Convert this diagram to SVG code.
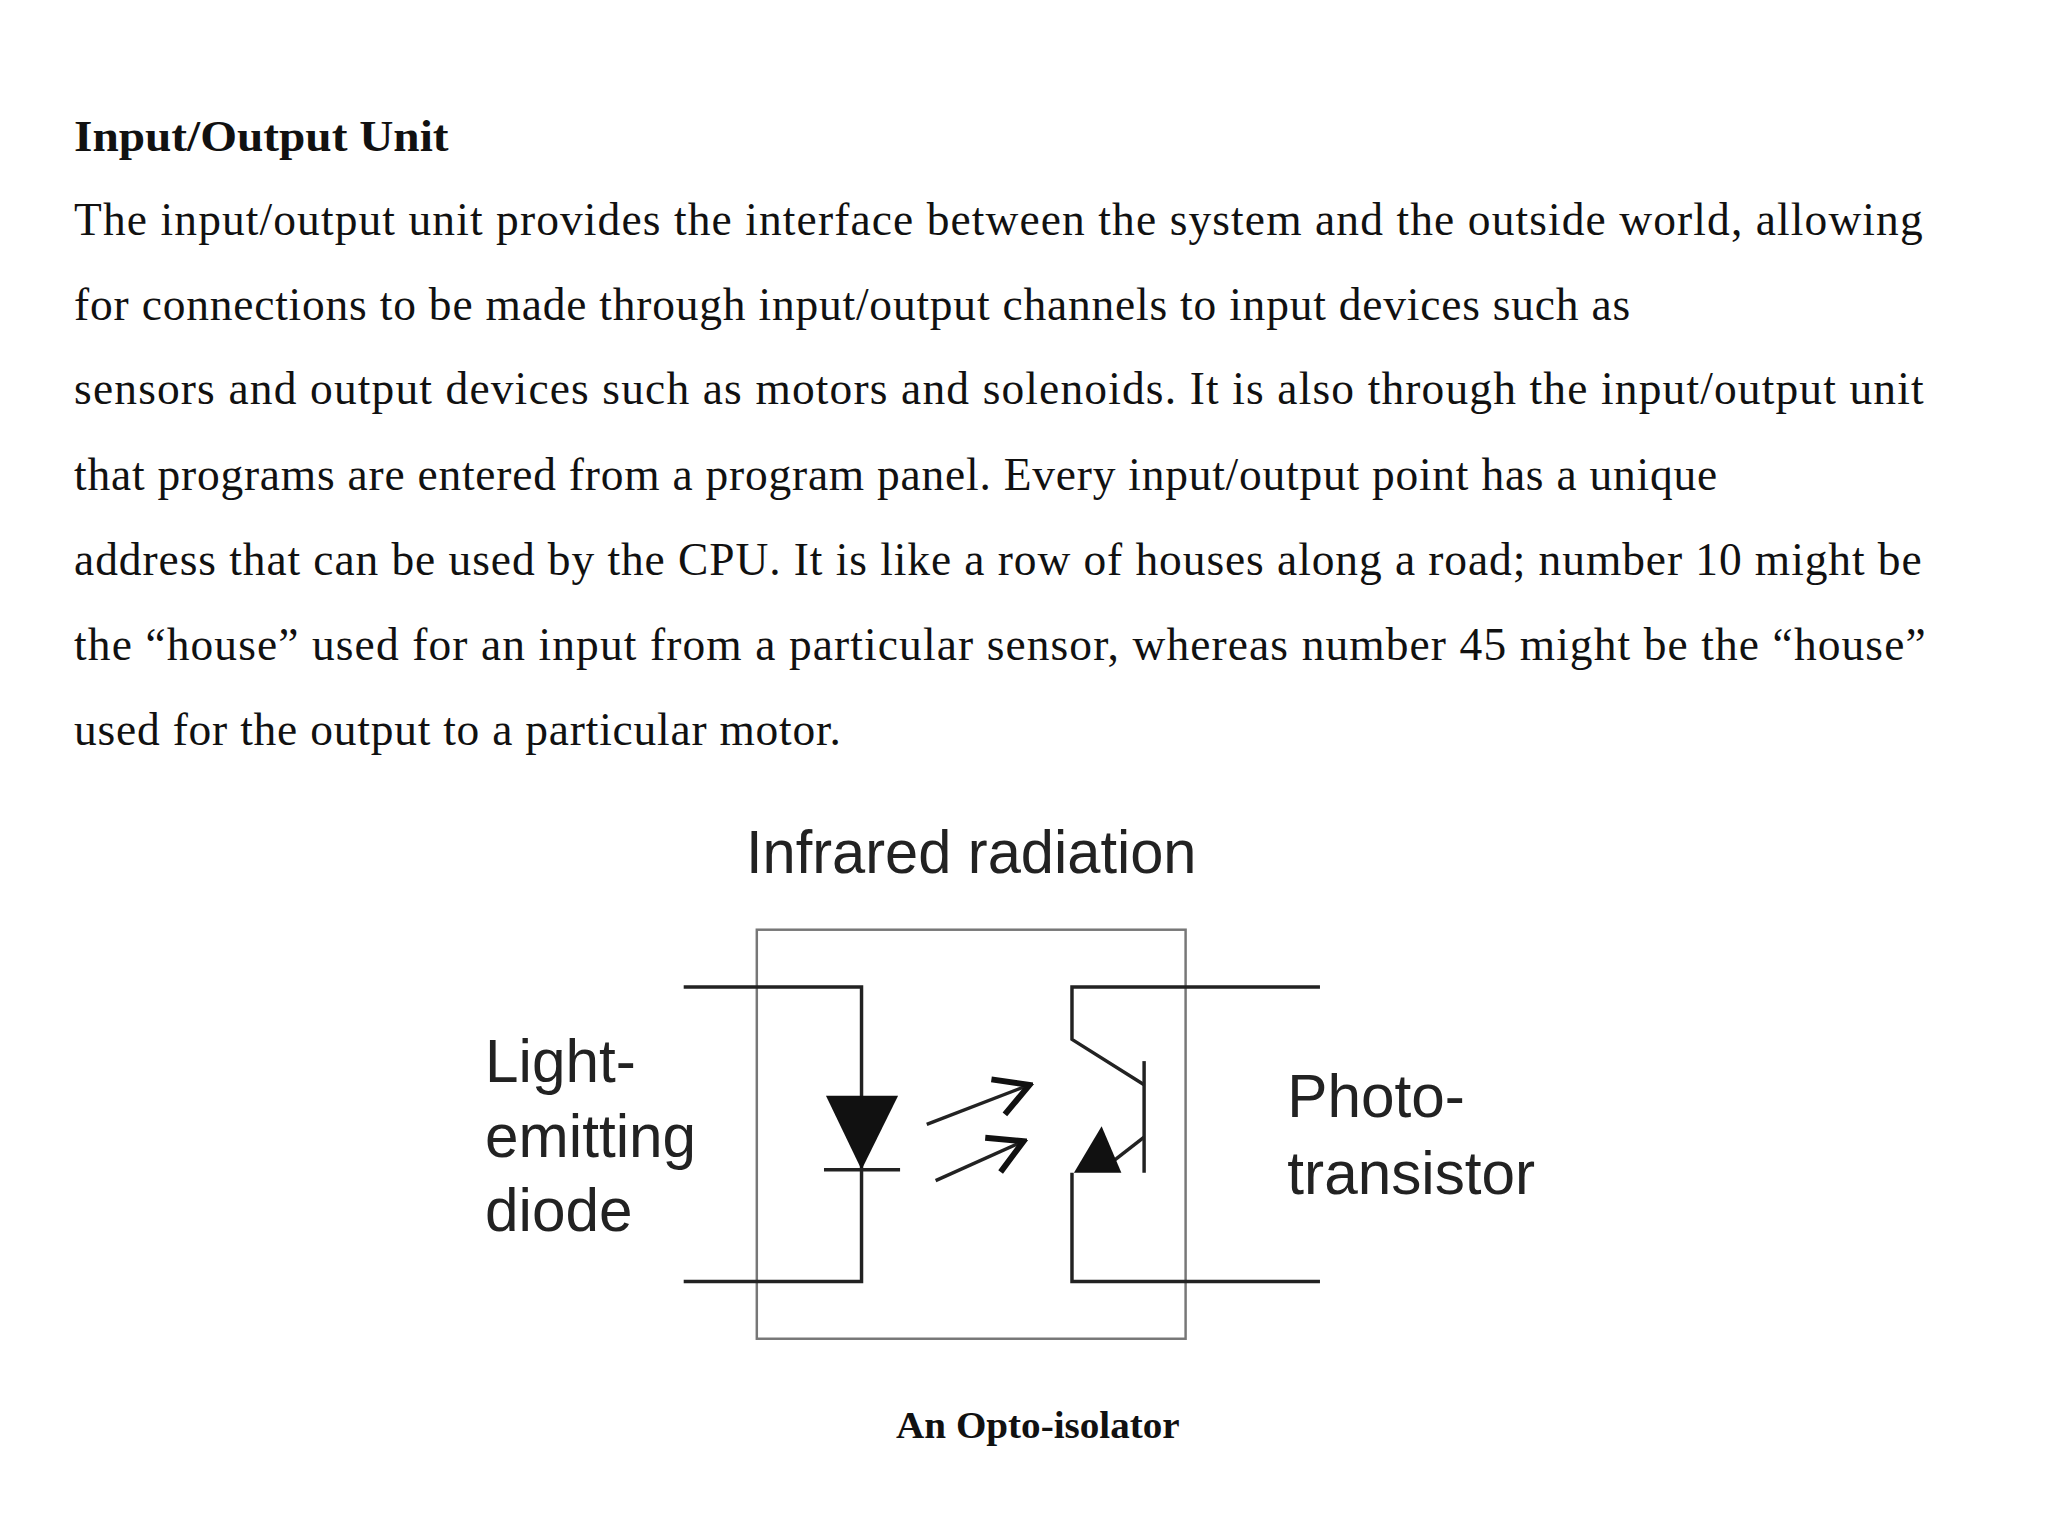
<svg xmlns="http://www.w3.org/2000/svg" width="2048" height="1536" viewBox="0 0 2048 1536">
<style>
.b{font-family:"Liberation Serif",serif;font-size:46px;fill:#111}
.h{font-family:"Liberation Serif",serif;font-size:45px;font-weight:bold;fill:#111}
.a{font-family:"Liberation Sans",Arial,sans-serif;font-size:61px;fill:#222}
.w{stroke:#222;stroke-width:3.5;fill:none}
</style>
<defs>
<marker id="ov" viewBox="0 0 44 44" markerWidth="44" markerHeight="44" refX="40" refY="22" orient="auto" markerUnits="userSpaceOnUse"><path d="M6,3 L40,22 L6,41" fill="none" stroke="#111" stroke-width="6"/></marker></defs>
<rect width="2048" height="1536" fill="#fff"/>
<g transform="scale(0.988)">
<g id="text">
<text class="h" x="75" y="153" textLength="379" lengthAdjust="spacingAndGlyphs">Input/Output Unit</text>
<text class="b" x="75" y="238" textLength="1871" lengthAdjust="spacing">The input/output unit provides the interface between the system and the outside world, allowing</text>
<text class="b" x="75" y="324" textLength="1575" lengthAdjust="spacing">for connections to be made through input/output channels to input devices such as</text>
<text class="b" x="75" y="409" textLength="1872" lengthAdjust="spacing">sensors and output devices such as motors and solenoids. It is also through the input/output unit</text>
<text class="b" x="75" y="496" textLength="1663" lengthAdjust="spacing">that programs are entered from a program panel. Every input/output point has a unique</text>
<text class="b" x="75" y="582" textLength="1870" lengthAdjust="spacing">address that can be used by the CPU. It is like a row of houses along a road; number 10 might be</text>
<text class="b" x="75" y="668" textLength="1874" lengthAdjust="spacing">the “house” used for an input from a particular sensor, whereas number 45 might be the “house”</text>
<text class="b" x="75" y="754" textLength="776" lengthAdjust="spacing">used for the output to a particular motor.</text>
</g>
<g id="labels">
<text class="a" x="755" y="884" textLength="456" lengthAdjust="spacingAndGlyphs">Infrared radiation</text>
<text class="a" x="491" y="1095">Light-</text>
<text class="a" x="491" y="1171">emitting</text>
<text class="a" x="491" y="1246">diode</text>
<text class="a" x="1303" y="1131">Photo-</text>
<text class="a" x="1303" y="1208">transistor</text>
<text class="h" x="907" y="1455" textLength="287" lengthAdjust="spacingAndGlyphs" style="font-size:38px">An Opto-isolator</text>
</g>
<g id="package"><rect x="766" y="941" width="434" height="414" fill="none" stroke="#777" stroke-width="2.5"/></g>
<g id="led">
<polyline class="w" points="692,999 872,999 872,1297 692,1297"/>
<polygon points="836,1109 909,1109 872,1184" fill="#111"/>
<line class="w" x1="834" y1="1184" x2="911" y2="1184"/>
</g>
<g id="transistor">
<polyline class="w" points="1336,999 1085,999 1085,1052 1158,1098"/>
<line class="w" x1="1158" y1="1074" x2="1158" y2="1187"/>
<line class="w" x1="1158" y1="1151" x2="1118" y2="1182"/>
<polygon points="1115,1140 1087,1187 1135,1187" fill="#111"/>
<polyline class="w" points="1085,1187 1085,1297 1336,1297"/>
</g>
<g id="connectors">
<line class="w" x1="938" y1="1138" x2="1042" y2="1098" marker-end="url(#ov)"/>
<line class="w" x1="947" y1="1195" x2="1036" y2="1155" marker-end="url(#ov)"/>
</g>
</g>
</svg>
